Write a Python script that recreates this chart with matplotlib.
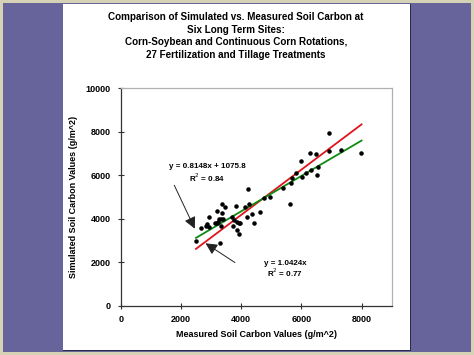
import matplotlib
matplotlib.use('Agg')
import numpy as np
from matplotlib import pyplot as plt
from matplotlib.patches import Rectangle

plt.rcParams['font.family'] = ['Liberation Sans', 'DejaVu Sans']

# Measured vs simulated soil carbon (g/m^2)
measured = [2500, 2666, 2832, 2876, 2921, 2942, 3121, 3197, 3208, 3241, 3274, 3297, 3320, 3330,
            3353, 3363, 3386, 3452, 3695, 3738, 3762, 3828, 3851, 3871, 3917, 3927, 3961, 4117,
            4183, 4226, 4250, 4370, 4416, 4625, 4768, 4957, 5378, 5631, 5665, 5698, 5821, 5997,
            6009, 6142, 6297, 6308, 6474, 6507, 6541, 6906, 6926, 7314, 7988]
simulated = [2972, 3557, 3677, 3756, 4092, 3631, 3816, 3788, 4355, 3862, 3972, 2894, 4000, 3677,
             4677, 4249, 3972, 4539, 4064, 3677, 3940, 4599, 3479, 3862, 3295, 3816, 3788, 4539,
             4064, 5369, 4677, 4231, 3788, 4309, 4968, 5014, 5429, 4677, 5645, 5862, 6092, 6659,
             5935, 6092, 7014, 6244, 6995, 6014, 6368, 7963, 7120, 7166, 7041]

fit_range = [2500, 8000]
slope_origin = 1.0424
slope_lin, intercept_lin = 0.8148, 1075.8

x_ticks = [0, 2000, 4000, 6000, 8000]
y_ticks = [0, 2000, 4000, 6000, 8000, 10000]

fig = plt.figure(figsize=(4.74, 3.55), dpi=100)
fig.patch.set_facecolor('#d6d2b6')
W, H = 474, 355


def px_rect(x0, y0, x1, y1, color, z):
    fig.patches.append(Rectangle((x0 / W, 1 - y1 / H), (x1 - x0) / W, (y1 - y0) / H,
                                 transform=fig.transFigure, facecolor=color, edgecolor='none', zorder=z))


px_rect(3, 3, 471, 352, '#67639b', 0)
px_rect(63, 4, 411, 351, '#2c2a4a', 1)
px_rect(63, 4, 410, 350, 'white', 2)

ax = fig.add_axes([120.7 / W, 1 - 305.5 / H, 271 / W, 217.2 / H])
ax.set_zorder(3)
ax.set_facecolor('white')

ax.scatter(measured, simulated, s=5, c='black', zorder=3)
xs = np.array(fit_range)
ax.plot(xs, slope_origin * xs, color='#e0141c', lw=1.3, zorder=2)
ax.plot(xs, slope_lin * xs + intercept_lin, color='#108a10', lw=1.3, zorder=2)

bold = dict(fontsize=5.8, fontweight='bold', ha='center', va='center')
ax.text(2865, 6382, 'y = 0.8148x + 1075.8', **bold)
ax.text(2865, 5876, 'R$^2$ = 0.84', **bold)
ax.text(5455, 1945, 'y = 1.0424x', **bold)
ax.text(5455, 1484, 'R$^2$ = 0.77', **bold)
arrow = dict(arrowstyle='-|>,head_length=0.7,head_width=0.35', color='#222222', lw=0.7)
ax.annotate('', xy=(2500, 3420), xytext=(1740, 5650), arrowprops=arrow)
ax.annotate('', xy=(2740, 2935), xytext=(3870, 1908), arrowprops=arrow)

ax.set_xlim(0, 9000)
ax.set_ylim(0, 10000)
ax.set_xticks(x_ticks)
ax.set_yticks(y_ticks)
ax.tick_params(direction='inout', length=4, width=0.8, color='#333333', labelsize=6.5, pad=5)
for lab in ax.get_xticklabels() + ax.get_yticklabels():
    lab.set_fontweight('bold')
for side in ['left', 'bottom']:
    ax.spines[side].set_color('#333333')
    ax.spines[side].set_linewidth(0.9)
for side in ['top', 'right']:
    ax.spines[side].set_color('#b0b0b0')
    ax.spines[side].set_linewidth(0.9)

ax.set_xlabel('Measured Soil Carbon Values (g/m^2)', fontsize=6.5, fontweight='bold', labelpad=4)
ax.set_ylabel('Simulated Soil Carbon Values (g/m^2)', fontsize=6.5, fontweight='bold', labelpad=6)

fig.text(236 / W, 1 - 36 / H,
         'Comparison of Simulated vs. Measured Soil Carbon at\nSix Long Term Sites:\n'
         'Corn-Soybean and Continuous Corn Rotations,\n27 Fertilization and Tillage Treatments',
         ha='center', va='center', fontsize=7.1, fontweight='bold', linespacing=1.35, zorder=4)

fig.savefig('out.png', dpi=100, facecolor=fig.get_facecolor())
